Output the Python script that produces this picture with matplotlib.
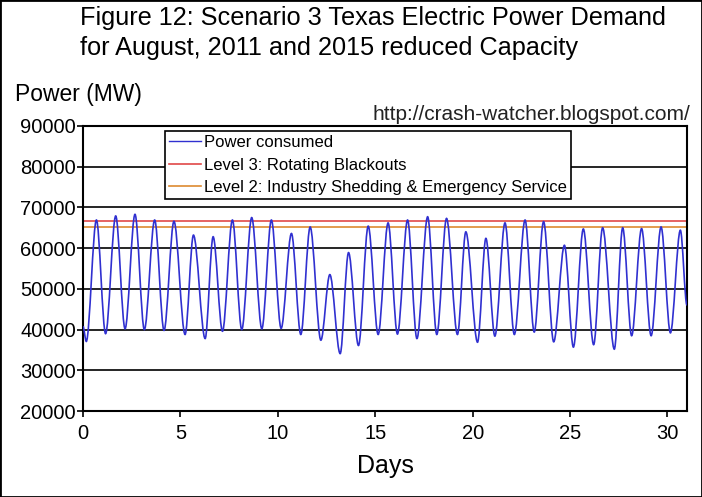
import matplotlib
matplotlib.use("Agg")
import matplotlib.pyplot as plt
from matplotlib.path import Path
from matplotlib.patches import PathPatch, Rectangle
from matplotlib.lines import Line2D

plt.rcParams['font.family'] = ['Liberation Sans', 'DejaVu Sans']

# Daily peaks and troughs of the power curve (days, MW)
days_ext = [0.00, 0.17, 0.69, 1.16, 1.68, 2.16, 2.67, 3.15, 3.68, 4.16,
            4.67, 5.24, 5.67, 6.27, 6.68, 7.16, 7.67, 8.15, 8.66, 9.18,
            9.67, 10.17, 10.70, 11.18, 11.66, 12.21, 12.67, 13.20, 13.63, 14.14,
            14.64, 15.15, 15.66, 16.14, 16.66, 17.14, 17.69, 18.16, 18.66, 19.22,
            19.65, 20.25, 20.68, 21.14, 21.66, 22.14, 22.69, 23.16, 23.64, 24.16,
            24.71, 25.17, 25.68, 26.21, 26.67, 27.27, 27.70, 28.16, 28.67, 29.16,
            29.67, 30.15, 30.66, 31.00]
power_ext = [40800, 37100, 66900, 39000, 67900, 40200, 68300, 40000, 66900, 39800,
             66600, 38800, 63200, 37800, 62800, 39600, 66900, 40000, 67500, 40200,
             66900, 40300, 63600, 38800, 65200, 37400, 53500, 34100, 58900, 36100,
             65400, 38800, 66200, 38900, 66900, 37800, 67700, 38800, 67300, 38800,
             64000, 36900, 62400, 38400, 66200, 38800, 66900, 39400, 66500, 37000,
             60700, 35700, 64700, 36300, 65000, 35200, 65000, 38500, 64800, 38500,
             65200, 39200, 64400, 46000]

level3 = 66600   # Rotating Blackouts
level2 = 65100   # Industry Shedding & Emergency Service

x_ticks = [0, 5, 10, 15, 20, 25, 30]
y_ticks = [20000, 30000, 40000, 50000, 60000, 70000, 80000, 90000]

fig = plt.figure(figsize=(7.02, 4.97), dpi=100)
ax = fig.add_axes([0.1182, 0.173, 0.8604, 0.5735])

ax.set_xlim(0, 31)
ax.set_ylim(20000, 90000)
ax.set_xticks(x_ticks)
ax.set_yticks(y_ticks)
ax.tick_params(labelsize=14.5, direction='out', length=4, width=1.2)
ax.tick_params(axis='y', pad=1)
ax.tick_params(axis='x', pad=5)
for s in ax.spines.values():
    s.set_linewidth(1.5)

for yv in y_ticks[1:-1]:
    ax.axhline(yv, color='black', lw=1.2, zorder=1)

# Smooth line through extrema (horizontal tangents at peaks/troughs)
verts = [(days_ext[0], power_ext[0])]
codes = [Path.MOVETO]
for i in range(len(days_ext) - 1):
    t0, v0 = days_ext[i], power_ext[i]
    t1, v1 = days_ext[i + 1], power_ext[i + 1]
    dt = t1 - t0
    verts += [(t0 + dt / 3, v0), (t1 - dt / 3, v1), (t1, v1)]
    codes += [Path.CURVE4] * 3
path = Path(verts, codes)
ax.add_patch(PathPatch(path, facecolor='none', edgecolor='#3030d0', lw=1.2, zorder=3,
                       clip_on=True))

ax.axhline(level3, color='#e04848', lw=1.2, zorder=2)
ax.axhline(level2, color='#dd8a30', lw=1.2, zorder=2)

handles = [Line2D([], [], color='#3030d0', lw=1.0),
           Line2D([], [], color='#e04848', lw=1.2),
           Line2D([], [], color='#dd8a30', lw=1.2)]
labels = ['Power consumed', 'Level 3: Rotating Blackouts',
          'Level 2: Industry Shedding & Emergency Service']
leg = ax.legend(handles, labels, loc='upper left', bbox_to_anchor=(0.136, 0.982),
                borderaxespad=0, fontsize=12, frameon=True, fancybox=False,
                edgecolor='black', framealpha=1, handlelength=1.9,
                handletextpad=0.2, labelspacing=0.45, borderpad=0.25)
leg.get_frame().set_linewidth(1.2)
leg.set_zorder(5)

ax.set_xlabel('Days', fontsize=18, labelpad=8)

fig.text(80 / 702, 1 - 18 / 497, 'Figure 12: Scenario 3 Texas Electric Power Demand',
         fontsize=18.2, ha='left', va='center')
fig.text(80 / 702, 1 - 48 / 497, 'for August, 2011 and 2015 reduced Capacity',
         fontsize=18.2, ha='left', va='center')
fig.text(15 / 702, 1 - 95 / 497, 'Power (MW)', fontsize=16.5, ha='left', va='center')
fig.text(690 / 702, 1 - 114 / 497, 'http://crash-watcher.blogspot.com/',
         fontsize=15, ha='right', va='center', color='#222222')

fig.patches.append(Rectangle((0, 0), 1, 1, transform=fig.transFigure, fill=False,
                             edgecolor='black', lw=2))

fig.savefig('out.png', dpi=100)
